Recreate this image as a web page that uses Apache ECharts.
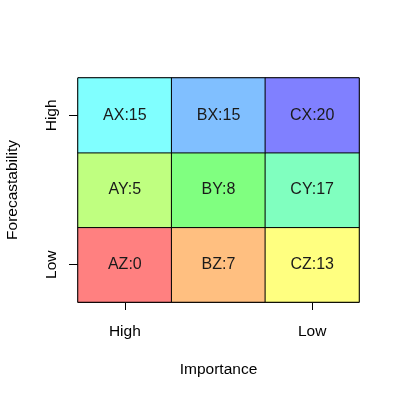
<!DOCTYPE html>
<html>
<head>
<meta charset="utf-8">
<script src="https://cdn.jsdelivr.net/npm/echarts@6/dist/echarts.min.js"></script>
<style>
  html, body { margin: 0; padding: 0; background: #fff; }
  #chart { width: 400px; height: 400px; }
</style>
</head>
<body>
<div id="chart"></div>
<script>
// importance classes, left to right
const importanceCodes = ["A", "B", "C"]
const importanceLabels = ["High", "", "Low"]
// forecastability classes, bottom to top
const forecastCodes = ["Z", "Y", "X"]
const forecastLabels = ["Low", "", "High"]
// item counts per class: countsByRow[forecast][importance]
const countsZ = [0, 7, 13]
const countsY = [5, 8, 17]
const countsX = [15, 15, 20]
const countsByRow = [countsZ, countsY, countsX]

const cellColors = [
  ["#ff8080", "#ffbf80", "#ffff80"],
  ["#bfff80", "#80ff80", "#80ffbf"],
  ["#80ffff", "#80bfff", "#8080ff"],
]

const font = "Liberation Sans, Arial, sans-serif"

const cells = []
countsByRow.forEach((row, yi) => {
  row.forEach((count, xi) => {
    cells.push({
      value: [xi, yi, count],
      itemStyle: { color: cellColors[yi][xi] },
    })
  })
})

const chart = echarts.init(document.getElementById("chart"), null, { renderer: "canvas" })
chart.setOption({
  animation: false,
  textStyle: { fontFamily: font, color: "#000" },
  grid: {
    left: 78, right: 41, top: 78, bottom: 98,
    containLabel: false,
    outerBoundsMode: "none",
    show: true, borderColor: "#000", borderWidth: 1, backgroundColor: "transparent",
  },
  xAxis: {
    type: "category",
    data: importanceLabels,
    name: "Importance",
    nameLocation: "middle",
    nameGap: 60,
    nameTextStyle: { fontSize: 15.5, color: "#000", fontFamily: font },
    axisLine: { show: true, lineStyle: { color: "#000", width: 1 } },
    axisTick: {
      show: true, alignWithLabel: true, length: 8,
      interval: (i) => importanceLabels[i] !== "",
      lineStyle: { color: "#000" },
    },
    axisLabel: { interval: 0, margin: 22, fontSize: 15.5, color: "#000", fontFamily: font },
    splitLine: { show: false },
  },
  yAxis: {
    type: "category",
    data: forecastLabels,
    name: "Forecastability",
    nameLocation: "middle",
    nameGap: 57,
    nameTextStyle: { fontSize: 15.5, color: "#000", fontFamily: font },
    axisLine: { show: true, lineStyle: { color: "#000", width: 1 } },
    axisTick: {
      show: true, alignWithLabel: true, length: 9,
      interval: (i) => forecastLabels[i] !== "",
      lineStyle: { color: "#000" },
    },
    axisLabel: { interval: 0, rotate: 90, margin: 18, fontSize: 15.5, color: "#000", fontFamily: font },
    splitLine: { show: false },
  },
  series: [
    {
      type: "heatmap",
      data: cells,
      itemStyle: { borderColor: "#000", borderWidth: 1 },
      label: {
        show: true,
        fontSize: 16,
        color: "#1a1a1a",
        fontFamily: font,
        formatter: (p) =>
          importanceCodes[p.value[0]] + forecastCodes[p.value[1]] + ":" + p.value[2],
      },
      emphasis: { disabled: true },
    },
  ],
})
</script>
</body>
</html>
